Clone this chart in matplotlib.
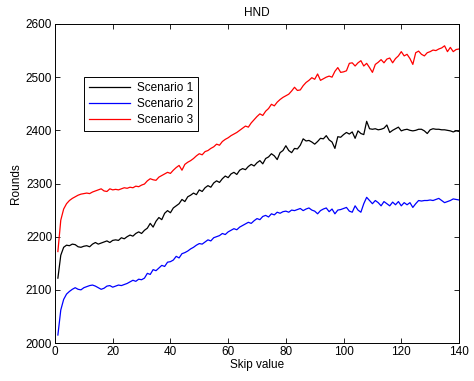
import matplotlib
matplotlib.use("Agg")
import matplotlib.pyplot as plt
import numpy as np

plt.rcParams['font.family'] = ['Liberation Sans', 'DejaVu Sans']

skip = list(range(1, 141))

scenario1 = [
    2122, 2165, 2180, 2184, 2183, 2186, 2185, 2181, 2180, 2182,
    2183, 2181, 2186, 2189, 2186, 2188, 2190, 2192, 2189, 2193,
    2194, 2193, 2198, 2196, 2200, 2203, 2201, 2206, 2209, 2206,
    2212, 2216, 2225, 2218, 2229, 2236, 2232, 2244, 2249, 2245,
    2254, 2258, 2262, 2270, 2266, 2275, 2278, 2282, 2279, 2288,
    2285, 2292, 2296, 2293, 2301, 2305, 2302, 2309, 2314, 2311,
    2318, 2321, 2317, 2325, 2328, 2326, 2332, 2336, 2333, 2339,
    2343, 2337, 2347, 2350, 2356, 2352, 2345, 2358, 2362, 2371,
    2362, 2358, 2366, 2365, 2372, 2384, 2380, 2381, 2378, 2374,
    2379, 2385, 2384, 2390, 2382, 2378, 2366, 2388, 2387, 2392,
    2396, 2393, 2397, 2385, 2399, 2394, 2392, 2417, 2403, 2402,
    2403, 2401, 2402, 2404, 2410, 2396, 2400, 2403, 2406, 2399,
    2401, 2402, 2400, 2399, 2400, 2402, 2402, 2399, 2394, 2401,
    2403, 2402, 2402, 2401, 2401, 2400, 2399, 2397, 2399, 2398,
]

scenario2 = [
    2015, 2062, 2082, 2092, 2097, 2101, 2104, 2101, 2100, 2104,
    2106, 2108, 2109, 2107, 2104, 2101, 2103, 2107, 2108, 2105,
    2107, 2109, 2108, 2110, 2112, 2115, 2118, 2116, 2120, 2119,
    2122, 2131, 2129, 2138, 2136, 2141, 2146, 2144, 2152, 2153,
    2156, 2163, 2160, 2168, 2170, 2173, 2177, 2180, 2184, 2187,
    2186, 2190, 2194, 2192, 2198, 2200, 2202, 2206, 2204, 2209,
    2212, 2215, 2213, 2218, 2221, 2224, 2227, 2225, 2230, 2234,
    2232, 2238, 2240, 2237, 2243, 2241, 2246, 2244, 2247, 2248,
    2246, 2250, 2249, 2251, 2253, 2249, 2252, 2254, 2250, 2248,
    2243, 2249, 2252, 2254, 2247, 2252, 2243, 2250, 2251, 2253,
    2255, 2248, 2246, 2258, 2250, 2246, 2262, 2274, 2268, 2262,
    2268, 2264, 2258, 2266, 2262, 2258, 2265, 2260, 2266, 2258,
    2264, 2260, 2264, 2255, 2262, 2268, 2267, 2268, 2268, 2269,
    2268, 2270, 2272, 2268, 2264, 2266, 2268, 2271, 2270, 2269,
]

scenario3 = [
    2172, 2231, 2252, 2262, 2268, 2272, 2275, 2278, 2280, 2281,
    2282, 2281, 2284, 2286, 2288, 2290, 2286, 2285, 2290, 2288,
    2289, 2288, 2290, 2292, 2291, 2293, 2292, 2295, 2294, 2297,
    2299, 2305, 2309, 2307, 2306, 2312, 2315, 2318, 2321, 2319,
    2325, 2330, 2334, 2325, 2336, 2340, 2343, 2347, 2352, 2356,
    2354, 2360, 2362, 2366, 2369, 2374, 2372, 2379, 2383, 2386,
    2390, 2393, 2396, 2400, 2404, 2408, 2406, 2414, 2420, 2426,
    2431, 2428, 2436, 2441, 2449, 2446, 2453, 2458, 2462, 2465,
    2468, 2474, 2481, 2475, 2476, 2484, 2490, 2494, 2499, 2496,
    2506, 2494, 2497, 2500, 2502, 2500, 2511, 2518, 2509, 2510,
    2512, 2526, 2527, 2521, 2527, 2531, 2521, 2526, 2518, 2509,
    2524, 2528, 2533, 2527, 2534, 2536, 2527, 2535, 2540, 2548,
    2540, 2543, 2535, 2524, 2546, 2549, 2543, 2540, 2546, 2548,
    2551, 2550, 2553, 2555, 2559, 2548, 2556, 2548, 2552, 2553,
]

labels = ["Scenario 1", "Scenario 2", "Scenario 3"]
colors = ["black", "blue", "red"]
xticks = [0, 20, 40, 60, 80, 100, 120, 140]
yticks = [2000, 2100, 2200, 2300, 2400, 2500, 2600]

fig = plt.figure(figsize=(4.74, 3.81), dpi=100)
ax = fig.add_axes([55/474, 1 - 343/381, 404/474, 319/381])

for ys, lab, col in zip([scenario1, scenario2, scenario3], labels, colors):
    ax.plot(skip, ys, color=col, lw=0.9, label=lab)

ax.set_xlim(0, 140)
ax.set_ylim(2000, 2600)
ax.set_xticks(xticks)
ax.set_yticks(yticks)
ax.tick_params(direction='in', top=True, right=True, length=3.5, width=0.6,
               labelsize=8.5, pad=2)
for s in ax.spines.values():
    s.set_linewidth(0.7)

ax.set_title("HND", fontsize=8.5, pad=6)
ax.set_xlabel("Skip value", fontsize=8.5, labelpad=1)
ax.set_ylabel("Rounds", fontsize=8.5, labelpad=3)

leg = ax.legend(loc='upper left', bbox_to_anchor=(0.072, 0.834), borderaxespad=0,
                fontsize=8.5, handlelength=3.5, fancybox=False, framealpha=1,
                edgecolor='black', borderpad=0.4, labelspacing=0.35, handletextpad=0.6)
leg.get_frame().set_linewidth(0.7)

fig.savefig("out.png", dpi=100)
